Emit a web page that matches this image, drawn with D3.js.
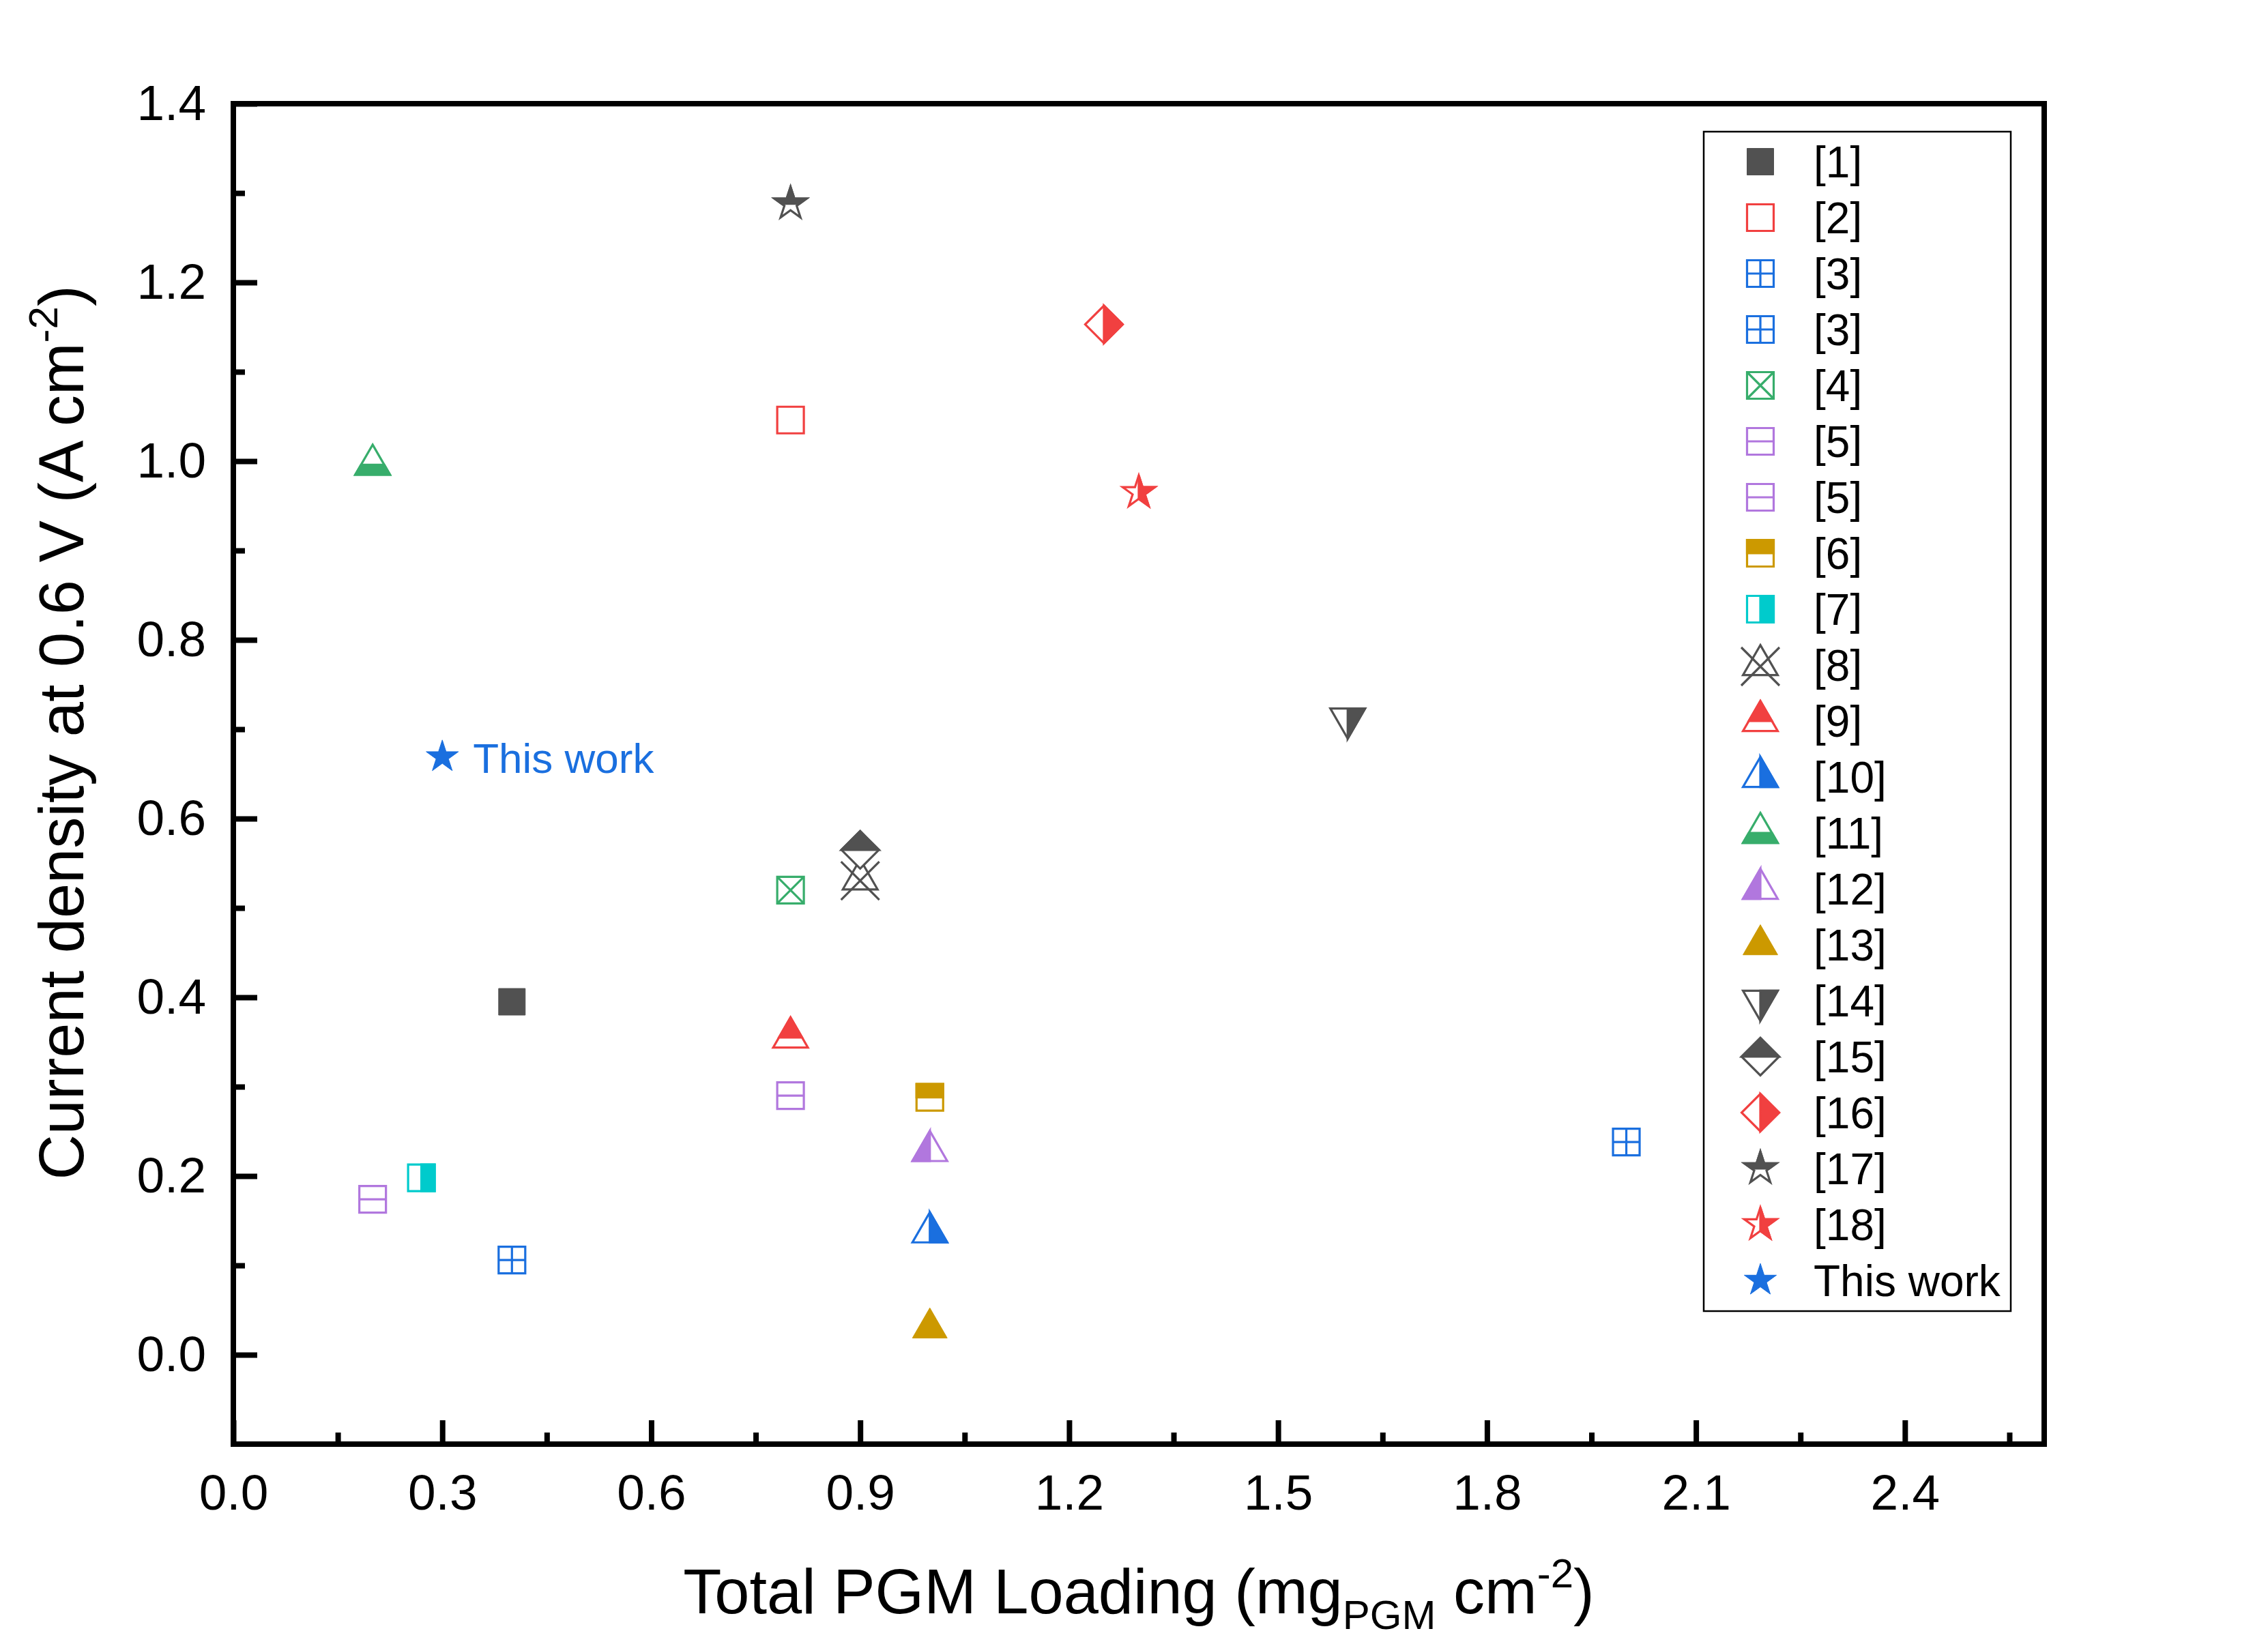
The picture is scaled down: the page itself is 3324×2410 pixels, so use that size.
<!DOCTYPE html>
<html><head><meta charset="utf-8">
<script src="https://cdn.jsdelivr.net/npm/d3@7"></script>
<style>body{margin:0;background:#fff} text{font-family:"Liberation Sans",Arial,sans-serif}</style>
</head><body><svg id="c" width="3324" height="2410"></svg>
<script>
// ---- data ----
const refs = ["[1]","[2]","[3]","[3]","[4]","[5]","[5]","[6]","[7]","[8]","[9]","[10]","[11]","[12]","[13]","[14]","[15]","[16]","[17]","[18]","This work"];
const loading = [0.4,0.8,0.4,2.0,0.8,0.2,0.8,1.0,0.27,0.9,0.8,1.0,0.2,1.0,1.0,1.6,0.9,1.25,0.8,1.3,0.3];
const current = [0.395,1.046,0.106,0.238,0.52,0.174,0.29,0.288,0.198,0.532,0.355,0.137,0.996,0.228,0.03,0.712,0.565,1.153,1.288,0.965,0.669];
const xTicks = [0,0.3,0.6,0.9,1.2,1.5,1.8,2.1,2.4];
const xTickLabels = ["0.0","0.3","0.6","0.9","1.2","1.5","1.8","2.1","2.4"];
const xMinorTicks = [0.15,0.45,0.75,1.05,1.35,1.65,1.95,2.25,2.55];
const yTicks = [0,0.2,0.4,0.6,0.8,1.0,1.2,1.4];
const yTickLabels = ["0.0","0.2","0.4","0.6","0.8","1.0","1.2","1.4"];
const yMinorTicks = [0.1,0.3,0.5,0.7,0.9,1.1,1.3];
const annotation = "This work";

// ---- marker styles (one per series) ----
const GRAY="#515151",RED="#F14040",BLUE="#1A6FDF",GREEN="#37AD6B",PURPLE="#B177DE",GOLD="#CC9900",CYAN="#00CBCC";
const markerStyles = [
  {shape:"square",color:GRAY,fill:"full"},
  {shape:"square",color:RED,fill:"none"},
  {shape:"square",color:BLUE,fill:"none",extra:"plus"},
  {shape:"square",color:BLUE,fill:"none",extra:"plus"},
  {shape:"square",color:GREEN,fill:"none",extra:"x"},
  {shape:"square",color:PURPLE,fill:"none",extra:"hline"},
  {shape:"square",color:PURPLE,fill:"none",extra:"hline"},
  {shape:"square",color:GOLD,fill:"top"},
  {shape:"square",color:CYAN,fill:"right"},
  {shape:"triUp",color:GRAY,fill:"none",extra:"bigx",transparent:true},
  {shape:"triUp",color:RED,fill:"top"},
  {shape:"triUp",color:BLUE,fill:"right"},
  {shape:"triUp",color:GREEN,fill:"bottom"},
  {shape:"triUp",color:PURPLE,fill:"left"},
  {shape:"triUp",color:GOLD,fill:"full"},
  {shape:"triDown",color:GRAY,fill:"right"},
  {shape:"diamond",color:GRAY,fill:"top"},
  {shape:"diamond",color:RED,fill:"right"},
  {shape:"star",color:GRAY,fill:"top"},
  {shape:"star",color:RED,fill:"right"},
  {shape:"star",color:BLUE,fill:"full"}
];

// ---- layout ----
const svg = d3.select("#c");
const M = {left:342,right:2996,top:152,bottom:2117};
const x = d3.scaleLinear().domain([0,2.6]).range([M.left,M.right]);
const y = d3.scaleLinear().domain([-0.1,1.4]).range([M.bottom,M.top]);
svg.append("rect").attr("width",3324).attr("height",2410).attr("fill","#fff");

// ---- shape geometry ----
function poly(shape){
  if(shape==="square"){const s=19.5;return [[-s,-s],[s,-s],[s,s],[-s,s]];}
  if(shape==="triUp"){const R=29.4;return [[0,-R],[R*0.866,R/2],[-R*0.866,R/2]];}
  if(shape==="triDown"){const R=29.4;return [[0,R],[-R*0.866,-R/2],[R*0.866,-R/2]];}
  if(shape==="diamond"){const d=27.5;return [[0,-d],[d,0],[0,d],[-d,0]];}
  if(shape==="star"){const R=24.8,r=R*0.382,p=[];for(let i=0;i<10;i++){const a=-Math.PI/2+i*Math.PI/5;const rr=i%2?r:R;p.push([rr*Math.cos(a),rr*Math.sin(a)]);}return p;}
}
function clip(pts,side){
  const inside=p=>side==="top"?p[1]<=0:side==="bottom"?p[1]>=0:side==="left"?p[0]<=0:p[0]>=0;
  const inter=(a,b)=>{ if(side==="top"||side==="bottom"){const t=a[1]/(a[1]-b[1]);return [a[0]+t*(b[0]-a[0]),0];} const t=a[0]/(a[0]-b[0]);return [0,a[1]+t*(b[1]-a[1])]; };
  const out=[];
  for(let i=0;i<pts.length;i++){const a=pts[i],b=pts[(i+1)%pts.length];
    const ia=inside(a),ib=inside(b);
    if(ia&&ib)out.push(b); else if(ia&&!ib)out.push(inter(a,b)); else if(!ia&&ib){out.push(inter(a,b));out.push(b);}
  }
  return out;
}
const line = d3.line().curve(d3.curveLinearClosed);
function drawMarker(g,st){
  const p=poly(st.shape), sw=3.2;
  if(st.fill==="full"){
    g.append("path").attr("d",line(p)).attr("fill",st.color).attr("stroke",st.color).attr("stroke-width",1).attr("stroke-linejoin","miter");
    return;
  }
  g.append("path").attr("d",line(p)).attr("fill",st.transparent?"none":"#fff").attr("stroke",st.color).attr("stroke-width",sw).attr("stroke-linejoin","miter");
  if(st.fill!=="none"){
    g.append("path").attr("d",line(clip(p,st.fill))).attr("fill",st.color).attr("stroke",st.color).attr("stroke-width",sw).attr("stroke-linejoin","miter");
  }
  const s=19.5;
  if(st.extra==="plus"){
    g.append("path").attr("d",`M${-s},0H${s}M0,${-s}V${s}`).attr("stroke",st.color).attr("stroke-width",sw);
  } else if(st.extra==="x"){
    g.append("path").attr("d",`M${-s},${-s}L${s},${s}M${s},${-s}L${-s},${s}`).attr("stroke",st.color).attr("stroke-width",sw);
  } else if(st.extra==="hline"){
    g.append("path").attr("d",`M${-s},0H${s}`).attr("stroke",st.color).attr("stroke-width",sw);
  } else if(st.extra==="bigx"){
    const b=28;
    g.append("path").attr("d",`M${-b},${-b+2}L${b},${b+2}M${b},${-b+2}L${-b},${b+2}`).attr("stroke",st.color).attr("stroke-width",sw);
  }
}

// ---- axes ----
const tickStyle = sel => { sel.select(".domain").remove(); sel.selectAll(".tick line").attr("stroke","#000").attr("stroke-width",8); };
svg.append("g").attr("transform",`translate(0,${M.bottom})`)
  .call(d3.axisBottom(x).tickValues(xMinorTicks).tickSize(-17).tickFormat(""))
  .call(tickStyle);
svg.append("g").attr("transform",`translate(${M.left},0)`)
  .call(d3.axisLeft(y).tickValues(yMinorTicks).tickSize(-17).tickFormat(""))
  .call(tickStyle);
const gx = svg.append("g").attr("transform",`translate(0,${M.bottom})`)
  .call(d3.axisBottom(x).tickValues(xTicks).tickSize(-35).tickPadding(44).tickFormat((d,i)=>xTickLabels[i]))
  .call(tickStyle);
gx.selectAll(".tick text").attr("font-size",73).attr("fill","#000").attr("font-family",'"Liberation Sans",Arial,sans-serif');
const gy = svg.append("g").attr("transform",`translate(${M.left},0)`)
  .call(d3.axisLeft(y).tickValues(yTicks).tickSize(-35).tickPadding(40).tickFormat((d,i)=>yTickLabels[i]))
  .call(tickStyle);
gy.selectAll(".tick text").attr("font-size",73).attr("fill","#000").attr("font-family",'"Liberation Sans",Arial,sans-serif');

// frame
svg.append("rect").attr("x",M.left).attr("y",M.top).attr("width",M.right-M.left).attr("height",M.bottom-M.top)
  .attr("fill","none").attr("stroke","#000").attr("stroke-width",8);

// ---- axis titles ----
const xt = svg.append("text").attr("x",(M.left+M.right)/2).attr("y",2365).attr("text-anchor","middle").attr("font-size",92).attr("fill","#000");
xt.append("tspan").text("Total PGM Loading (mg");
xt.append("tspan").attr("font-size",60).attr("dy",23).text("PGM");
xt.append("tspan").attr("dy",-23).text(" cm");
xt.append("tspan").attr("font-size",60).attr("dy",-38).text("-2");
xt.append("tspan").attr("dy",38).text(")");

const yt = svg.append("text").attr("transform","translate(122,1074) rotate(-90)").attr("text-anchor","middle").attr("font-size",92).attr("fill","#000");
yt.append("tspan").text("Current density at 0.6 V (A cm");
yt.append("tspan").attr("font-size",60).attr("dy",-38).text("-2");
yt.append("tspan").attr("dy",38).text(")");

// ---- points ----
const pts = refs.map((r,i)=>({ref:r,x:loading[i],y:current[i],st:markerStyles[i]}));
pts.forEach(d=>{
  const g = svg.append("g").attr("transform",`translate(${x(d.x)},${y(d.y)})`);
  drawMarker(g,d.st);
});
const tw = pts[pts.length-1];
svg.append("text").attr("x",x(tw.x)+45).attr("y",y(tw.y)+23).attr("font-size",62).attr("fill",BLUE).text(annotation);

// ---- legend ----
const L = {x:2497,y:193,w:450,h:1729,row0:237,step:82,symX:2580,txtX:2658};
svg.append("rect").attr("x",L.x).attr("y",L.y).attr("width",L.w).attr("height",L.h).attr("fill","#fff").attr("stroke","#000").attr("stroke-width",2.5);
pts.forEach((d,i)=>{
  const yy = L.row0+i*L.step;
  const g = svg.append("g").attr("transform",`translate(${L.symX},${yy})`);
  drawMarker(g,d.st);
  svg.append("text").attr("x",L.txtX).attr("y",yy+23).attr("font-size",64).attr("fill","#000").text(d.ref);
});
</script></body></html>
